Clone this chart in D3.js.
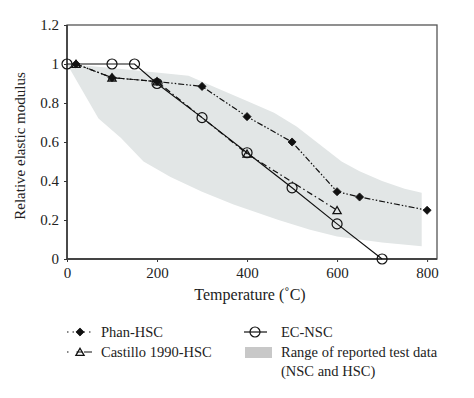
<!DOCTYPE html>
<html>
<head>
<meta charset="utf-8">
<script src="https://cdn.jsdelivr.net/npm/d3@7"></script>
<style>
  body { margin: 0; background: #fff; }
  svg text { font-family: "Liberation Serif", "DejaVu Serif", serif; fill: #222; }
</style>
</head>
<body>
<svg id="chart"></svg>
<script>
const w = 474;
const h = 398;

// data
const xTicks = [0, 200, 400, 600, 800];
const yTicks = [0, 0.2, 0.4, 0.6, 0.8, 1, 1.2];

const phanT = [20, 100, 200, 300, 400, 500, 600, 650, 800];
const phanE = [1, 0.93, 0.91, 0.885, 0.73, 0.6, 0.345, 0.318, 0.25];

const castT = [20, 100, 200, 400, 600];
const castE = [1, 0.93, 0.91, 0.54, 0.25];

const ecT = [0, 100, 150, 200, 300, 400, 500, 600, 700];
const ecE = [1, 1, 1, 0.9, 0.725, 0.545, 0.365, 0.18, 0];

// grey band (range of reported test data)
const bandUpperT = [0, 100, 160, 270, 330, 400, 460, 510, 560, 610, 650, 700, 750, 788];
const bandUpperE = [1, 0.98, 0.965, 0.94, 0.88, 0.81, 0.75, 0.68, 0.59, 0.5, 0.45, 0.4, 0.36, 0.34];
const bandLowerT = [0, 70, 120, 170, 230, 300, 370, 470, 540, 600, 700, 788];
const bandLowerE = [1, 0.72, 0.62, 0.5, 0.42, 0.345, 0.28, 0.2, 0.15, 0.115, 0.085, 0.065];

const legendItems = ["Phan-HSC", "Castillo 1990-HSC", "EC-NSC", "Range of reported test data", "(NSC and HSC)"];

const svg = d3.select("#chart")
  .attr("width", w)
  .attr("height", h);

const padL = 67, padR = 437, padT = 25, padB = 259;

const x = d3.scaleLinear().domain([0, 822]).range([padL, padR]);
const y = d3.scaleLinear().domain([0, 1.2]).range([padB, padT]);

const zip = (a, b) => a.map((d, i) => [d, b[i]]);

// band
const bandPts = zip(bandUpperT, bandUpperE).concat(zip(bandLowerT, bandLowerE).reverse());
svg.append("path")
  .attr("d", d3.line().x(d => x(d[0])).y(d => y(d[1])).curve(d3.curveLinearClosed)(bandPts))
  .attr("fill", "#e2e6e6")
  .attr("stroke", "none");

// frame
svg.append("rect")
  .attr("x", padL).attr("y", padT)
  .attr("width", padR - padL).attr("height", padB - padT)
  .attr("fill", "none").attr("stroke", "#555").attr("stroke-width", 1.3);

// axes
const xAxis = svg.append("g")
  .attr("transform", `translate(0,${padB})`)
  .call(d3.axisBottom(x).tickValues(xTicks).tickSize(3).tickPadding(5).tickFormat(d3.format("d")));
xAxis.select(".domain").remove();
xAxis.selectAll("line").attr("stroke", "#333");
xAxis.selectAll("text").attr("font-size", 15).attr("fill", "#222")
  .style("font-family", "Liberation Serif, DejaVu Serif, serif");

const yAxis = svg.append("g")
  .attr("transform", `translate(${padL},0)`)
  .call(d3.axisLeft(y).tickValues(yTicks).tickSize(3).tickPadding(5).tickFormat(d => d3.format("")(d)));
yAxis.select(".domain").remove();
yAxis.selectAll("line").attr("stroke", "#333");
yAxis.selectAll("text").attr("font-size", 15).attr("fill", "#222")
  .style("font-family", "Liberation Serif, DejaVu Serif, serif");

svg.append("line")
  .attr("x1", padL).attr("x2", padR).attr("y1", padB).attr("y2", padB)
  .attr("stroke", "#444").attr("stroke-width", 1.8);
svg.append("line")
  .attr("x1", padL).attr("x2", padL).attr("y1", padT).attr("y2", padB)
  .attr("stroke", "#333").attr("stroke-width", 1.5);

svg.append("text")
  .attr("x", 250).attr("y", 300)
  .attr("text-anchor", "middle").attr("font-size", 16)
  .text("Temperature (˚C)");

svg.append("text")
  .attr("transform", `translate(25,${(padT + padB) / 2 + 4}) rotate(-90)`)
  .attr("text-anchor", "middle").attr("font-size", 15)
  .text("Relative elastic modulus");

const line = d3.line().x(d => x(d[0])).y(d => y(d[1]));
const phanDash = "6,2,1.5,2,1.5,2";
const castDash = "6,3,1.5,3";

svg.append("path").attr("d", line(zip(phanT, phanE)))
  .attr("fill", "none").attr("stroke", "#111").attr("stroke-width", 1.2).attr("stroke-dasharray", phanDash);
svg.append("path").attr("d", line(zip(castT, castE)))
  .attr("fill", "none").attr("stroke", "#111").attr("stroke-width", 1.2).attr("stroke-dasharray", castDash);
svg.append("path").attr("d", line(zip(ecT, ecE)))
  .attr("fill", "none").attr("stroke", "#111").attr("stroke-width", 1.2);

const diamond = d3.symbol().type(d3.symbolDiamond2).size(42);
const tri = d3.symbol().type(d3.symbolTriangle2).size(48);

function drawDiamond(g, cx, cy) {
  g.append("path").attr("d", diamond()).attr("transform", `translate(${cx},${cy})`)
    .attr("fill", "#111").attr("stroke", "#111").attr("stroke-width", 0.8);
}
function drawTri(g, cx, cy) {
  g.append("path").attr("d", tri()).attr("transform", `translate(${cx},${cy + 1})`)
    .attr("fill", "none").attr("stroke", "#111").attr("stroke-width", 1.3);
}
function drawCircle(g, cx, cy) {
  g.append("circle").attr("cx", cx).attr("cy", cy).attr("r", 5)
    .attr("fill", "none").attr("stroke", "#111").attr("stroke-width", 1.2);
}

const marks = svg.append("g");
zip(castT, castE).forEach(d => drawTri(marks, x(d[0]), y(d[1])));
zip(phanT, phanE).forEach(d => drawDiamond(marks, x(d[0]), y(d[1])));
zip(ecT, ecE).forEach(d => drawCircle(marks, x(d[0]), y(d[1])));

// legend
const lg = svg.append("g");
const row1 = 332, row2 = 352, row3 = 371;
lg.append("line").attr("x1", 67).attr("x2", 94).attr("y1", row1).attr("y2", row1)
  .attr("stroke", "#111").attr("stroke-width", 1.2).attr("stroke-dasharray", "1.5,4");
drawDiamond(lg, 80, row1);
lg.append("line").attr("x1", 67).attr("x2", 93).attr("y1", row2).attr("y2", row2)
  .attr("stroke", "#111").attr("stroke-width", 1.2).attr("stroke-dasharray", "1.5,5,0,3,6");
drawTri(lg, 80, row2);
lg.append("line").attr("x1", 244).attr("x2", 267).attr("y1", row1).attr("y2", row1)
  .attr("stroke", "#111").attr("stroke-width", 1.2);
drawCircle(lg, 255, row1);
lg.append("rect").attr("x", 245).attr("y", 347).attr("width", 27).attr("height", 11)
  .attr("fill", "#c8c8c8");

const legText = [[101, row1], [101, row2], [281, row1], [281, row2], [281, row3]];
legendItems.forEach((t, i) => {
  lg.append("text").attr("x", legText[i][0]).attr("y", legText[i][1] + 5)
    .attr("font-size", 14.5).text(t);
});
</script>
</body>
</html>
